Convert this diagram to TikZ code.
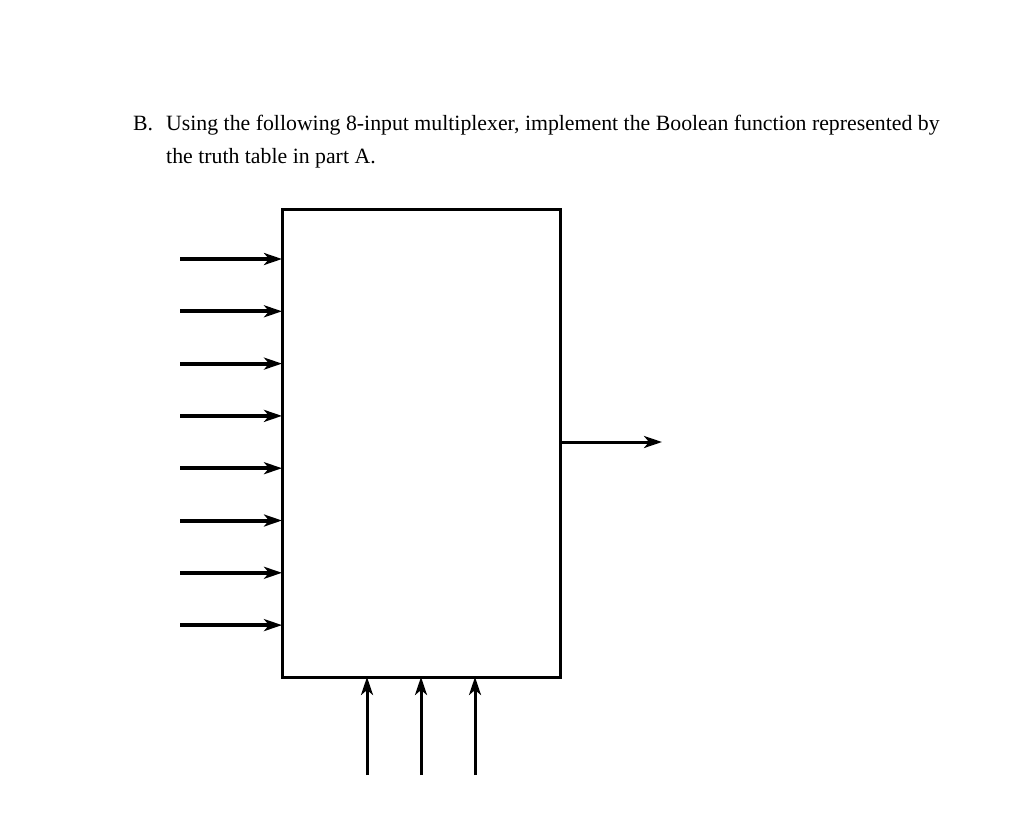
\documentclass[tikz,border=0pt]{standalone}
\usepackage{fontspec}
\setmainfont{Liberation Serif}
\usepackage{tikz}
\usetikzlibrary{arrows.meta,positioning}

\begin{document}
\begin{tikzpicture}[
        x=1pt, y=-1pt,
        muxbox/.style={draw, line width=3pt, minimum width=278pt, minimum height=468pt, inner sep=0pt, outer sep=0pt},
        signal/.style={-{Stealth[length=18pt,width=12pt,inset=5pt]}, line width=4pt},
        qtext/.style={font=\fontsize{21.8}{32}\selectfont, inner sep=0pt, anchor=base west}
    ]
    \useasboundingbox (0,0) rectangle (1024,824);

    % question text
    \node[qtext] (qlabel) at (133,131) {B.};
    \node[qtext] (question) at (166,131)
        {Using the following 8-input multiplexer, implement the Boolean function represented by};
    \node[qtext] (question2) at (166,163) {the truth table in part A.};

    % the multiplexer
    \node[muxbox] (mux) at (421,443) {};

    % data inputs
    \foreach \i in {0,...,7} {
        \coordinate (in\i) at (180,{259+52.3*\i});
        \draw[signal] (in\i) to (in\i -| mux.west);
    }

    % output
    \coordinate (out) at (662,442);
    \draw[signal, line width=3pt] (out -| mux.east) to (out);

    % select lines
    \foreach \s/\xs in {0/367,1/421,2/475} {
        \coordinate (sel\s) at (\xs,775);
        \draw[signal, line width=3pt] (sel\s) to (sel\s |- mux.south);
    }
\end{tikzpicture}
\end{document}
